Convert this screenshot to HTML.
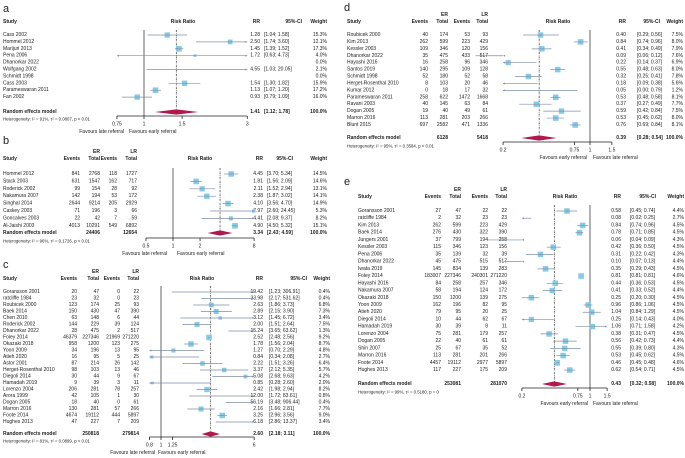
<!DOCTYPE html>
<html><head><meta charset="utf-8">
<style>
html,body{margin:0;padding:0;background:#fff;}
svg{display:block;font-family:"Liberation Sans",sans-serif;}
</style></head>
<body>
<svg id="fig" width="685" height="458" viewBox="0 0 685 458"></svg>
<script>
// ---------- Panel a ----------
const aStudy=["Cass 2002","Hommel 2012","Marijuri 2013","Pena 2006","Dhanorkar 2022","Wolfgang 2002","Schmidt 1998","Cass 2003","Parameswaran 2011","Fan 2002"];
const aRR=[1.28,2.50,1.45,1.72,null,4.55,null,1.54,1.13,0.93];
const aLo=[1.04,1.74,1.39,0.63,null,1.03,null,1.30,1.07,0.79];
const aHi=[1.58,3.60,1.52,4.73,null,20.05,null,1.82,1.20,1.09];
const aW=[15.3,12.1,17.3,4.0,0.0,2.1,0.0,15.9,17.2,16.0];
const aPooled=[1.41,1.12,1.78];
const aTicks=[0.75,1,1.5,3];
const aHet="Heterogeneity: I² = 91%, τ² = 0.0807, p < 0.01";
// ---------- Panel b ----------
const bStudy=["Hommel 2012","Stack 2003","Roderick 2002","Nakamura 2007","Singhal 2014","Caskey 2003","Goncalves 2003","Al-Jaishi 2003"];
const bEvER=[841,631,99,142,2644,71,22,4013];
const bTotER=[2768,1547,154,194,9214,196,42,10291];
const bEvLR=[118,162,28,53,205,3,7,549];
const bTotLR=[1727,717,92,172,2929,66,59,6892];
const bRR=[4.45,1.81,2.11,2.38,4.10,7.97,4.41,4.90];
const bLo=[3.70,1.56,1.52,1.87,3.56,2.60,2.08,4.50];
const bHi=[5.34,2.09,2.94,3.02,4.70,24.45,9.37,5.32];
const bW=[14.5,14.6,13.1,14.1,14.9,5.3,8.2,15.1];
const bPooled=[3.34,2.43,4.59];
const bTotals=[24406,12654];
const bTicks=[0.5,1,2,8];
const bHet="Heterogeneity: I² = 96%, τ² = 0.1726, p < 0.01";
// ---------- Panel c ----------
const cStudy=["Goransson 2001","ratcliffe 1984","Roubicek 2000","Baek 2014","Chen 2010","Roderick 2002","Dhanorkar 2022","Foley 2014","Okazaki 2018","Yoon 2009","Atieh 2020","Astor 2001","Herget-Rosenthal 2010","Diegoli 2014","Hamadah 2019","Lorenzo 2004","Arora 1999","Dogan 2005","Marron 2016","Foote 2014","Hughes 2013"];
const cEvER=[20,23,123,150,63,144,28,46379,958,34,16,87,98,30,9,206,42,18,130,4674,47];
const cTotER=[47,32,174,430,148,229,475,227346,1200,196,95,214,103,44,39,281,105,40,281,19112,227];
const cEvLR=[0,0,25,47,6,39,2,21969,123,13,5,26,13,9,3,78,1,0,57,444,7];
const cTotLR=[22,23,93,390,44,124,517,271220,275,95,25,142,46,67,11,257,30,61,266,5897,209];
const cRR=[19.42,33.98,2.63,2.89,3.12,2.00,15.24,2.52,1.78,1.27,0.84,2.22,3.37,5.08,0.85,2.42,12.00,56.19,2.16,3.25,6.18];
const cLo=[1.23,2.17,1.86,2.15,1.45,1.51,3.65,2.48,1.56,0.70,0.34,1.51,2.12,2.68,0.28,1.98,1.72,3.48,1.66,2.96,2.86];
const cHi=[306.91,531.62,3.73,3.90,6.72,2.64,63.62,2.56,2.04,2.29,2.08,3.26,5.35,9.63,2.60,2.94,83.61,906.44,2.81,3.56,13.37];
const cW=[0.4,0.4,6.8,7.3,3.4,7.5,1.3,9.2,8.7,4.8,2.7,6.4,5.7,4.2,2.0,8.2,0.8,0.4,7.7,9.0,3.4];
const cPooled=[2.60,2.18,3.11];
const cTotals=[250818,279814];
const cTicks=[0.8,1,1.25,6];
const cHet="Heterogeneity: I² = 81%, τ² = 0.0899, p < 0.01";
// ---------- Panel d ----------
const dStudy=["Roubicek 2000","Kim 2013","Kessler 2003","Dhanorkar 2022","Hayashi 2016","Santos 2019","Schmidt 1998","Herget-Rosenthal 2010","Kumar 2012","Parameswaran 2011","Ravani 2003","Dogan 2005","Marron 2016","Blunt 2015"];
const dEvER=[40,262,109,35,16,140,52,8,0,258,40,19,113,697];
const dTotER=[174,599,346,475,258,295,180,103,18,622,145,40,281,2582];
const dEvLR=[53,223,120,433,96,109,52,20,17,1472,63,49,203,471];
const dTotLR=[93,429,156,517,346,128,58,46,32,1668,84,61,266,1336];
const dRR=[0.40,0.84,0.41,0.09,0.22,0.55,0.32,0.18,0.05,0.53,0.37,0.59,0.53,0.76];
const dLo=[0.29,0.74,0.34,0.06,0.14,0.48,0.25,0.09,0.00,0.48,0.27,0.42,0.45,0.69];
const dHi=[0.56,0.96,0.49,0.12,0.37,0.63,0.41,0.38,0.79,0.58,0.49,0.84,0.62,0.84];
const dW=[7.5,8.0,7.9,7.6,6.9,8.0,7.8,5.6,1.2,8.1,7.7,7.5,8.0,8.1];
const dPooled=[0.39,0.28,0.54];
const dTotals=[6128,5418];
const dTicks=[0.2,0.75,1,1.5];
const dHet="Heterogeneity: I² = 95%, τ² = 0.3584, p < 0.01";
// ---------- Panel e ----------
const eStudy=["Goransson 2001","ratcliffe 1984","Kim 2013","Baek 2014","Jungers 2001","Kessler 2003","Pena 2006","Dhanorkar 2022","Iwata 2019","Foley 2014","Hayashi 2016","Nakamura 2007","Okazaki 2018","Yoon 2009","Atieh 2020","Diegoli 2014","Hamadah 2019","Lorenzo 2004","Dogan 2005","Shin 2007","Marron 2016","Foote 2014","Hughes 2013"];
const eEvER=[27,2,262,276,37,115,35,45,145,183007,84,58,150,162,79,10,30,75,22,25,113,4457,117];
const eTotER=[47,32,599,430,799,346,139,475,834,227346,258,194,1200,196,95,44,39,281,40,67,281,19112,227];
const eEvLR=[22,23,223,322,194,123,32,515,139,240301,257,124,139,82,20,62,8,179,61,35,201,2977,175];
const eTotLR=[22,23,429,390,258,156,39,517,283,271220,346,172,275,95,25,67,11,257,61,52,266,5897,209];
const eRR=[0.58,0.08,0.84,0.78,0.06,0.42,0.31,0.10,0.35,0.81,0.44,0.41,0.25,0.96,1.04,0.25,1.06,0.38,0.56,0.55,0.53,0.46,0.62];
const eLo=[0.45,0.02,0.74,0.71,0.04,0.36,0.22,0.07,0.29,0.81,0.36,0.33,0.20,0.86,0.84,0.14,0.71,0.31,0.42,0.39,0.45,0.45,0.54];
const eHi=[0.74,0.25,0.96,0.85,0.09,0.50,0.42,0.13,0.43,0.81,0.53,0.52,0.30,1.06,1.29,0.43,1.58,0.47,0.73,0.80,0.62,0.48,0.71];
const eW=[4.4,2.7,4.5,4.5,4.3,4.5,4.3,4.4,4.5,4.6,4.5,4.4,4.5,4.5,4.5,4.0,4.2,4.5,4.4,4.3,4.5,4.6,4.5];
const ePooled=[0.43,0.32,0.58];
const eTotals=[253081,281070];
const eTicks=[0.2,0.75,1,1.5];
const eHet="Heterogeneity: I² = 99%, τ² = 0.5180, p = 0";

const NS="http://www.w3.org/2000/svg";
const svg=document.getElementById("fig");
function mk(tag,attrs,parent){const e=document.createElementNS(NS,tag);for(const k in attrs)e.setAttribute(k,attrs[k]);parent.appendChild(e);return e;}
function txt(p,x,y,s,anchor,bold,size,name){
  const t=mk("text",{x:x,y:y,"font-size":size||5,"text-anchor":anchor||"start","dominant-baseline":"central",fill:"#222","font-weight":bold?"bold":"normal"},p);
  t.textContent=s;
  
  
  return t;
}

const panels=[
 {id:"a",study:aStudy,rr:aRR,lo:aLo,hi:aHi,w:aW,ev:null,pooled:aPooled,totals:null,ticks:aTicks,het:aHet,
  lab:[3,9],erY:null,hdrY:22,row0:35,step:6.9,randY:112,hetY:119,axisY:116,studyX:3,x1:144,k:94,cols:null,
  rrX:260,ciX:264,ciHX:302,wX:327,rrHdrX:183,favL:124,favR:129,favLt:"Favours late referral",favRt:"Favours early referral",lineTop:30},
 {id:"b",study:bStudy,rr:bRR,lo:bLo,hi:bHi,w:bW,ev:[bEvER,bTotER,bEvLR,bTotLR],pooled:bPooled,totals:bTotals,ticks:bTicks,het:bHet,
  lab:[3,141],erY:152,hdrY:159,row0:174,step:7.4,randY:233,hetY:241,axisY:238,studyX:3,x1:173,k:39,cols:[80,100,117,137],
  rrX:263,ciX:267,ciHX:293,wX:327,rrHdrX:200,favL:167,favR:177,favLt:"Favours late referral",favRt:"Favours early referral",lineTop:168},
 {id:"c",study:cStudy,rr:cRR,lo:cLo,hi:cHi,w:cW,ev:[cEvER,cTotER,cEvLR,cTotLR],pooled:cPooled,totals:cTotals,ticks:cTicks,het:cHet,
  lab:[3,265],erY:272,hdrY:279,row0:292,step:6.5,randY:434,hetY:441,axisY:437,studyX:3,x1:161,k:52,cols:[77,99,120,139],
  rrX:263,ciX:269,ciHX:307,wX:330,rrHdrX:202,favL:155,favR:158,favLt:"Favours late referral",favRt:"Favours early referral",lineTop:286},
 {id:"d",study:dStudy,rr:dRR,lo:dLo,hi:dHi,w:dW,ev:[dEvER,dTotER,dEvLR,dTotLR],pooled:dPooled,totals:dTotals,ticks:dTicks,het:dHet,
  lab:[344,8],erY:15,hdrY:22,row0:35,step:6.92,randY:138,hetY:146,axisY:142,studyX:347,x1:590,k:54,cols:[428,448,470,488],
  rrX:626,ciX:637,ciHX:660,wX:683,rrHdrX:558,favL:587,favR:593,favLt:"Favours early referral",favRt:"Favours late referral",lineTop:30},
 {id:"e",study:eStudy,rr:eRR,lo:eLo,hi:eHi,w:eW,ev:[eEvER,eTotER,eEvLR,eTotLR],pooled:ePooled,totals:eTotals,ticks:eTicks,het:eHet,
  lab:[344,182],erY:190,hdrY:197,row0:211,step:7.23,randY:384,hetY:392,axisY:388,studyX:358,x1:590,k:42.3,cols:[441,461,488,507],
  rrX:621,ciX:630,ciHX:656,wX:684,rrHdrX:565,favL:588,favR:593,favLt:"Favours early referral",favRt:"Favours late referral",lineTop:205}
];

function fmt(v){return v.toFixed(2);}
function fmtCI(lo,hi){return "["+lo.toFixed(2)+"; "+hi.toFixed(2)+"]";}

panels.forEach(P=>{
  const g=mk("g",{},svg);
  
  
  const X=v=>P.x1+P.k*Math.log(v);
  const tmin=P.ticks[0], tmax=P.ticks[P.ticks.length-1];
  const xmin=X(tmin), xmax=X(tmax);
  txt(g,P.lab[0],P.lab[1],P.id,"start",false,11,"panel-label");
  txt(g,P.studyX,P.hdrY,"Study","start",true,5,"study-header");
  if(P.cols){
    txt(g,P.cols[1],P.erY,"ER","end",true,5,"er-header");
    txt(g,P.cols[3],P.erY,"LR","end",true,5,"lr-header");
    ["Events","Total","Events","Total"].forEach((h,i)=>txt(g,P.cols[i],P.hdrY,h,"end",true,5,"column-header"));
  }
  txt(g,P.rrHdrX,P.hdrY,"Risk Ratio","middle",true,5,"risk-ratio-header");
  txt(g,P.rrX,P.hdrY,"RR","end",true,5,"rr-header");
  txt(g,P.ciHX,P.hdrY,"95%-CI","end",true,5,"ci-header");
  txt(g,P.wX,P.hdrY,"Weight","end",true,5,"weight-header");
  const ref=mk("line",{x1:X(1),x2:X(1),y1:P.lineTop,y2:P.axisY,stroke:"#666","stroke-width":1},g);
  
  
  const dl=mk("line",{x1:X(P.pooled[0]),x2:X(P.pooled[0]),y1:P.lineTop,y2:P.randY,stroke:"#333","stroke-width":0.7,"stroke-dasharray":"2 0.9 0.6 0.9"},g);
  
  
  const wmax=Math.max(...P.w);
  P.study.forEach((s,i)=>{
    const y=P.row0+i*P.step;
    txt(g,P.studyX,y,s,"start",false,5,"study-name");
    if(P.ev){P.ev.forEach((arr,j)=>txt(g,P.cols[j],y,String(arr[i]),"end",false,5,"count-value"));}
    txt(g,P.wX,y,P.w[i].toFixed(1)+"%","end",false,5,"weight-value");
    if(P.rr[i]===null) return;
    txt(g,P.rrX,y,fmt(P.rr[i]),"end",false,5,"rr-value");
    txt(g,P.ciX,y,fmtCI(P.lo[i],P.hi[i]),"start",false,5,"ci-value");
    const lo=Math.max(P.lo[i],tmin), hi=Math.min(P.hi[i],tmax);
    const x0=lo>0?X(lo):xmin, x1=X(hi);
    const sz=Math.max(1.4,5.6*Math.sqrt(P.w[i]/wmax));
    const xc=X(P.rr[i]);
    if(P.rr[i]>=tmin && P.rr[i]<=tmax){
      const sq=mk("rect",{x:xc-sz/2,y:y-sz/2,width:sz,height:sz,fill:"#86cbe6"},g);
      
      
    }
    const ln=mk("line",{x1:x0,x2:x1,y1:y,y2:y,stroke:"#7f8fa6","stroke-width":0.7},g);
    
    
    if(P.lo[i]<tmin){
      const a=mk("path",{d:`M${xmin} ${y} l2 -1 v2 z`,fill:"#7f8fa6"},g);
      
      
    }
    if(P.hi[i]>tmax){
      const a=mk("path",{d:`M${xmax} ${y} l-2 -1 v2 z`,fill:"#7f8fa6"},g);
      
      
    }
  });
  txt(g,P.studyX,P.randY,"Random effects model","start",true,5,"random-effects-label");
  if(P.totals){
    txt(g,P.cols[1],P.randY,String(P.totals[0]),"end",true,5,"er-total");
    txt(g,P.cols[3],P.randY,String(P.totals[1]),"end",true,5,"lr-total");
  }
  txt(g,P.rrX,P.randY,fmt(P.pooled[0]),"end",true,5,"pooled-rr");
  txt(g,P.ciX,P.randY,fmtCI(P.pooled[1],P.pooled[2]),"start",true,5,"pooled-ci");
  txt(g,P.wX,P.randY,"100.0%","end",true,5,"pooled-weight");
  const dm=mk("path",{d:`M${X(P.pooled[1])} ${P.randY} L${X(P.pooled[0])} ${P.randY-2.6} L${X(P.pooled[2])} ${P.randY} L${X(P.pooled[0])} ${P.randY+2.6} Z`,fill:"#b3174f"},g);
  
  
  txt(g,P.studyX,P.hetY,P.het,"start",false,4.3,"heterogeneity-text");
  const ax=mk("line",{x1:xmin,x2:xmax,y1:P.axisY,y2:P.axisY,stroke:"#222","stroke-width":0.8},g);
  
  
  P.ticks.forEach(t=>{
    const tk=mk("line",{x1:X(t),x2:X(t),y1:P.axisY,y2:P.axisY+3,stroke:"#222","stroke-width":0.8},g);
    
    
    txt(g,X(t),P.axisY+8.5,String(t),"middle",false,5,"x-tick-label");
  });
  txt(g,P.favL,P.axisY+16,P.favLt,"end",false,5,"favours-left-label");
  txt(g,P.favR,P.axisY+16,P.favRt,"start",false,5,"favours-right-label");
});
</script>
</body></html>
